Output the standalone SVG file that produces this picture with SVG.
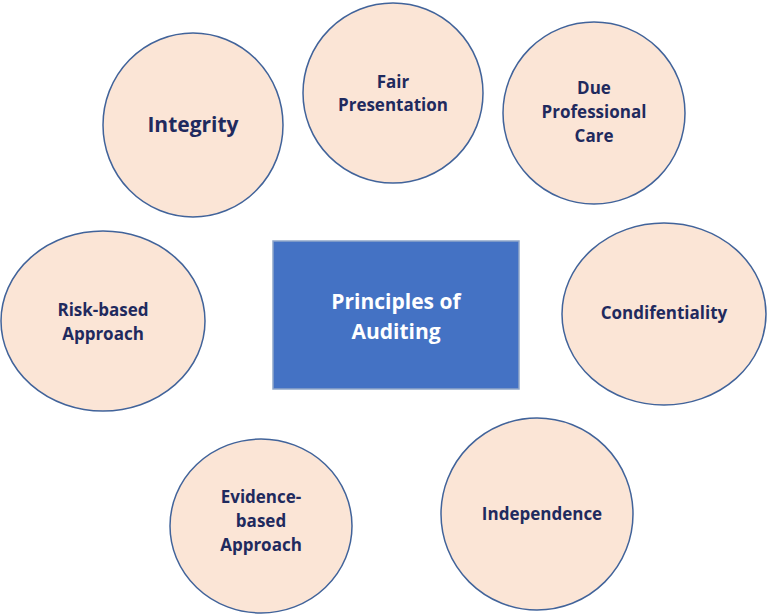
<svg xmlns="http://www.w3.org/2000/svg" width="768" height="614" viewBox="0 0 768 614">
<style>
.c{fill:#FBE5D6;stroke:#41639A;stroke-width:1.5}
.t{font-family:"Open Sans","Liberation Sans",sans-serif;font-weight:bold;fill:#1F2A5E;font-size:17px;text-anchor:middle}
.w{fill:#fff;font-size:21px}
</style>
<rect width="768" height="614" fill="#fff"/>
<g id="center"><rect x="273" y="241" width="246" height="148" fill="#4472C4" stroke="#8FA6C9" stroke-width="1.5"/><text class="t w" x="396" y="309">Principles of</text><text class="t w" x="396" y="339">Auditing</text></g>
<g id="integrity"><ellipse class="c" cx="193" cy="125" rx="90" ry="92"/><text class="t" x="193" y="132" style="font-size:21px">Integrity</text></g>
<g id="fair"><ellipse class="c" cx="393" cy="93" rx="90" ry="90"/><text class="t" x="393" y="88">Fair</text><text class="t" x="393" y="111">Presentation</text></g>
<g id="due"><ellipse class="c" cx="594" cy="113" rx="91" ry="91"/><text class="t" x="594" y="94">Due</text><text class="t" x="594" y="118">Professional</text><text class="t" x="594" y="142">Care</text></g>
<g id="risk"><ellipse class="c" cx="103" cy="321" rx="102" ry="90"/><text class="t" x="103" y="316">Risk-based</text><text class="t" x="103" y="340">Approach</text></g>
<g id="conf"><ellipse class="c" cx="664" cy="314" rx="102" ry="91"/><text class="t" x="664" y="319">Condifentiality</text></g>
<g id="evidence"><ellipse class="c" cx="261" cy="526" rx="91" ry="87"/><text class="t" x="261" y="503">Evidence-</text><text class="t" x="261" y="527">based</text><text class="t" x="261" y="551">Approach</text></g>
<g id="indep"><ellipse class="c" cx="537" cy="514" rx="96" ry="96"/><text class="t" x="542" y="520">Independence</text></g>
<g id="connectors"></g>
</svg>
